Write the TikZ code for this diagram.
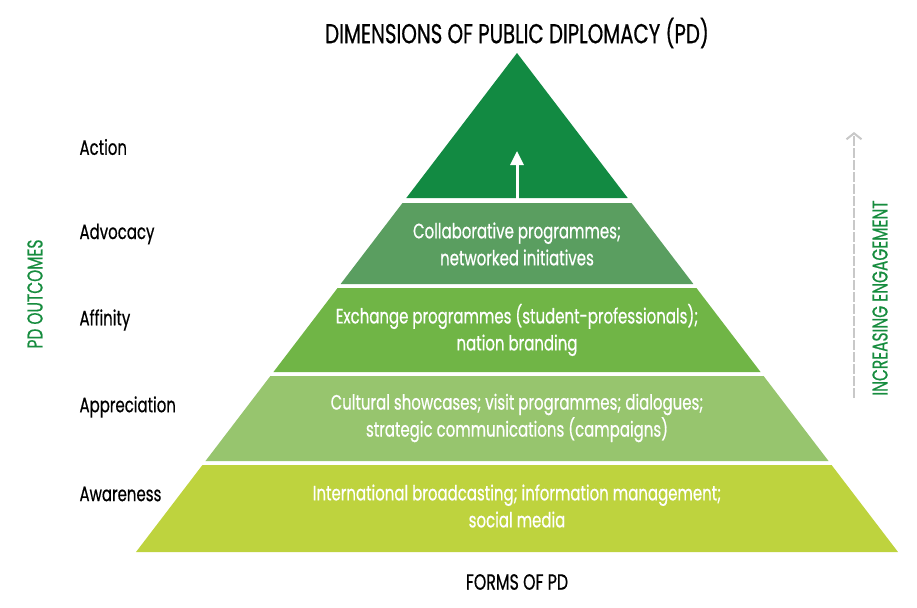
\documentclass[tikz,border=0pt]{standalone}
\usepackage{fontspec}
\setmainfont{Poppins}[FakeStretch=0.72,FakeBold=0.6]
\definecolor{pdact}  {RGB}{18,138,66}
\definecolor{pdadv}  {RGB}{90,158,96}
\definecolor{pdaff}  {RGB}{112,181,70}
\definecolor{pdapp}  {RGB}{151,197,110}
\definecolor{pdawa}  {RGB}{190,211,62}
\definecolor{pdtext} {RGB}{22,140,62}
\definecolor{pdgray} {RGB}{200,200,200}
\usetikzlibrary{arrows.meta,positioning,calc}
\tikzset{
  lvl/.style={anchor=west,text=black,font=\fontsize{20.8}{22}\selectfont},
  form/.style={text=white,align=center,font=\fontsize{20.8}{27}\selectfont},
  axis/.style={text=pdtext,font=\fontsize{21.4}{23}\selectfont},
}
% pyramid geometry (pixels)
\def\apexx{517}
\def\apexy{53}
\def\slope{0.7635}
\newcommand{\pyrband}[3]{%
  \fill[#3] ({\apexx-\slope*(#1-\apexy)},#1) -- ({\apexx+\slope*(#1-\apexy)},#1)
    -- ({\apexx+\slope*(#2-\apexy)},#2) -- ({\apexx-\slope*(#2-\apexy)},#2) -- cycle;}

\begin{document}
\begin{tikzpicture}[x=1pt,y=-1pt]
  \useasboundingbox (0,0) rectangle (917,607);

  % bands, top to bottom
  \foreach \top/\bot/\col in {53/198/pdact, 203/284/pdadv, 288/372/pdaff,
                              376/461/pdapp, 465/552/pdawa} {
    \pyrband{\top}{\bot}{\col}
  }

  % arrow inside the apex
  \coordinate (up0) at (517,199);
  \coordinate (up1) at (517,151);
  \draw[-{Triangle[length=14pt,width=13pt]},white,line width=3pt] (up0) -- (up1);

  % forms of PD
  \node[form] (fadv) at (517,244) {Collaborative programmes;\\networked initiatives};
  \node[form] (faff) at (517,330) {Exchange programmes (student-professionals);\\nation branding};
  \node[form] (fapp) at (517,418) {Cultural showcases; visit programmes; dialogues;\\strategic communications (campaigns)};
  \node[form] (fawa) at (517,506) {International broadcasting; information management;\\social media};

  % outcomes
  \node[lvl] (lact) at (76,147) {Action};
  \node[lvl] (ladv) at (76,234) {Advocacy};
  \node[lvl] (laff) at (76,320) {Affinity};
  \node[lvl] (lapp) at (76,407) {Appreciation};
  \node[lvl] (lawa) at (76,494) {Awareness};

  % titles
  \node[font=\fontsize{27.4}{29}\selectfont] (title) at (517,33) {DIMENSIONS OF PUBLIC DIPLOMACY (PD)};
  \node[font=\fontsize{22}{24}\selectfont] (forms) at (517,582) {FORMS OF PD};
  \node[axis,rotate=90] (outc) at (35,294) {PD OUTCOMES};
  \node[axis,rotate=90] (incr) at (880,298) {INCREASING ENGAGEMENT};

  % engagement arrow
  \coordinate (eng0) at (854,398);
  \coordinate (eng1) at (854,132);
  \draw[pdgray,line width=2.5pt,dash pattern=on 10pt off 2pt,
        -{Straight Barb[length=6pt,width=15pt,line width=2pt]}] (eng0) -- (eng1);
\end{tikzpicture}
\end{document}
